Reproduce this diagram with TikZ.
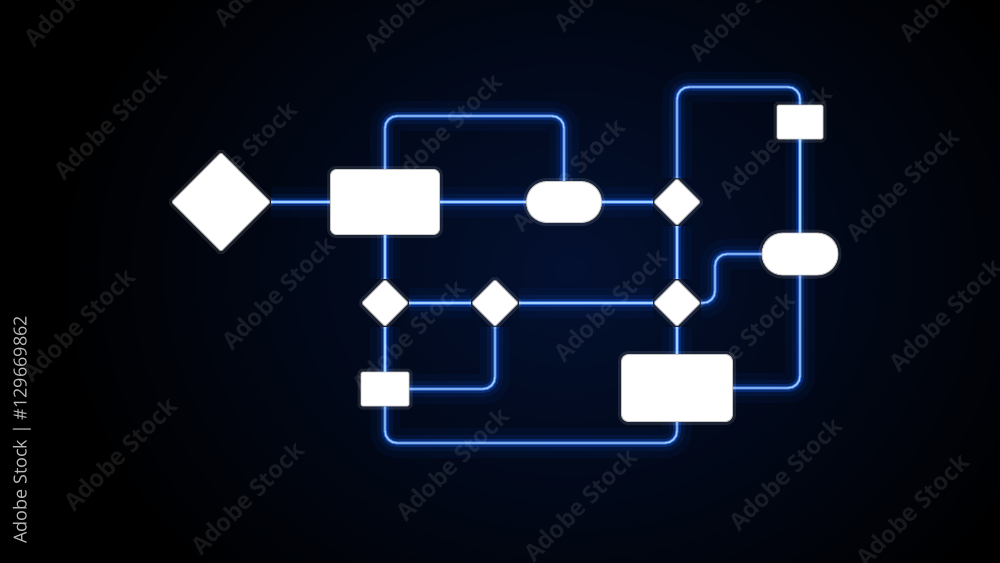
\documentclass[tikz,border=0pt]{standalone}
\usepackage{fontspec}
\setsansfont{Open Sans}
\usetikzlibrary{shapes.geometric,shapes.misc}
\pgfdeclarelayer{bg}
\pgfdeclarelayer{lines}
\pgfsetlayers{bg,lines,main}
\definecolor{glowblue}{RGB}{20,100,255}
\definecolor{coreblue}{RGB}{160,210,255}
\definecolor{haze}{RGB}{3,16,48}
\definecolor{idgray}{RGB}{185,185,185}
\tikzset{
  conn/.style={draw=coreblue, line width=1.4pt, rounded corners=12pt,
    preaction={draw=glowblue, draw opacity=0.05, line width=30pt},
    preaction={draw=glowblue, draw opacity=0.09, line width=16pt},
    preaction={draw=glowblue, draw opacity=0.25, line width=8pt},
    preaction={draw=glowblue!75!white, draw opacity=0.7, line width=3.4pt}},
  box/.style={fill=white, draw=white!78!black, line width=0.9pt, inner sep=0pt,
    preaction={draw=white, draw opacity=0.10, line width=7pt}},
  rbox/.style={box, rectangle, rounded corners=#1},
  dia/.style={box, diamond, minimum width=#1, minimum height=#1, rounded corners=1.5pt},
  pill/.style={box, rounded rectangle},
  wm/.style={text=white, text opacity=0.085, rotate=45, inner sep=0pt,
    font=\sffamily\bfseries\fontsize{24}{24}\selectfont},
  idtext/.style={text=idgray, rotate=90, inner sep=0pt,
    font=\sffamily\fontsize{18}{18}\selectfont}
}
\begin{document}
\begin{tikzpicture}[x=1pt,y=-1pt]
\useasboundingbox (0,0) rectangle (1000,562);
\begin{pgfonlayer}{bg}
  \fill[black] (-6,-6) rectangle (1006,568);
  \shade[inner color=haze, outer color=black] (570,270) ellipse (520 and 440);
\end{pgfonlayer}

% nodes
\node[dia=99pt] (D0) at (221,202) {};
\node[rbox=6pt, minimum width=109pt, minimum height=65pt] (R1) at (385,202) {};
\node[pill, minimum width=75pt, minimum height=41pt] (P1) at (564,202) {};
\node[dia=47pt] (D1) at (677,202) {};
\node[rbox=1.5pt, minimum width=46pt, minimum height=34pt] (R2) at (800,122) {};
\node[pill, minimum width=76pt, minimum height=42pt] (P2) at (800,254) {};
\node[dia=47pt] (D2) at (385,303) {};
\node[dia=47pt] (D3) at (495,303) {};
\node[dia=47pt] (D4) at (677,303) {};
\node[rbox=1.5pt, minimum width=48pt, minimum height=34pt] (R3) at (385,389) {};
\node[rbox=7pt, minimum width=111pt, minimum height=67pt] (R4) at (677,388) {};

\coordinate (tA) at (0,116);
\coordinate (tB) at (0,87);
\coordinate (bL) at (0,443);
\coordinate (sX) at (715,0);

\begin{pgfonlayer}{lines}
  \draw[conn] (D0.east) -- (R1.west);
  \draw[conn] (R1.east) -- (P1.west);
  \draw[conn] (P1.east) -- (D1.west);
  \draw[conn] (R1.north) -- (R1.north |- tA) -- (P1.north |- tA) -- (P1.north);
  \draw[conn] (D1.north) -- (D1.north |- tB) -- (R2.north |- tB) -- (R2.north);
  \draw[conn] (R2.south) -- (P2.north);
  \draw[conn] (P2.south) -- (P2.south |- R4.east) -- (R4.east);
  \draw[conn] (D1.south) -- (D4.north);
  \draw[conn] (D4.east) -- (sX |- D4.east) -- (sX |- P2.west) -- (P2.west);
  \draw[conn] (D4.south) -- (R4.north);
  \draw[conn] (R1.south) -- (D2.north);
  \draw[conn] (D2.east) -- (D3.west);
  \draw[conn] (D3.east) -- (D4.west);
  \draw[conn] (D2.south) -- (R3.north);
  \draw[conn] (D3.south) -- (D3.south |- R3.east) -- (R3.east);
  \draw[conn] (R3.south) -- (R3.south |- bL) -- (R4.south |- bL) -- (R4.south);
\end{pgfonlayer}

% watermark
\foreach \x/\y [count=\i] in {80/-10, 270/-30, 420/-5, 610/-25, 745/5, 955/-15,
  110/123, 240/158, 445/130, 568/175, 775/142, 902/185,
  78/325, 278/293, 408/336, 610/305, 738/348, 945/315,
  120/454, 247/498, 452/464, 580/505, 785/474, 912/510}
  \node[wm] (wm\i) at (\x,\y) {Adobe Stock};

\node[idtext] (stockid) at (22,430) {Adobe Stock | \#129669862};
\end{tikzpicture}
\end{document}
